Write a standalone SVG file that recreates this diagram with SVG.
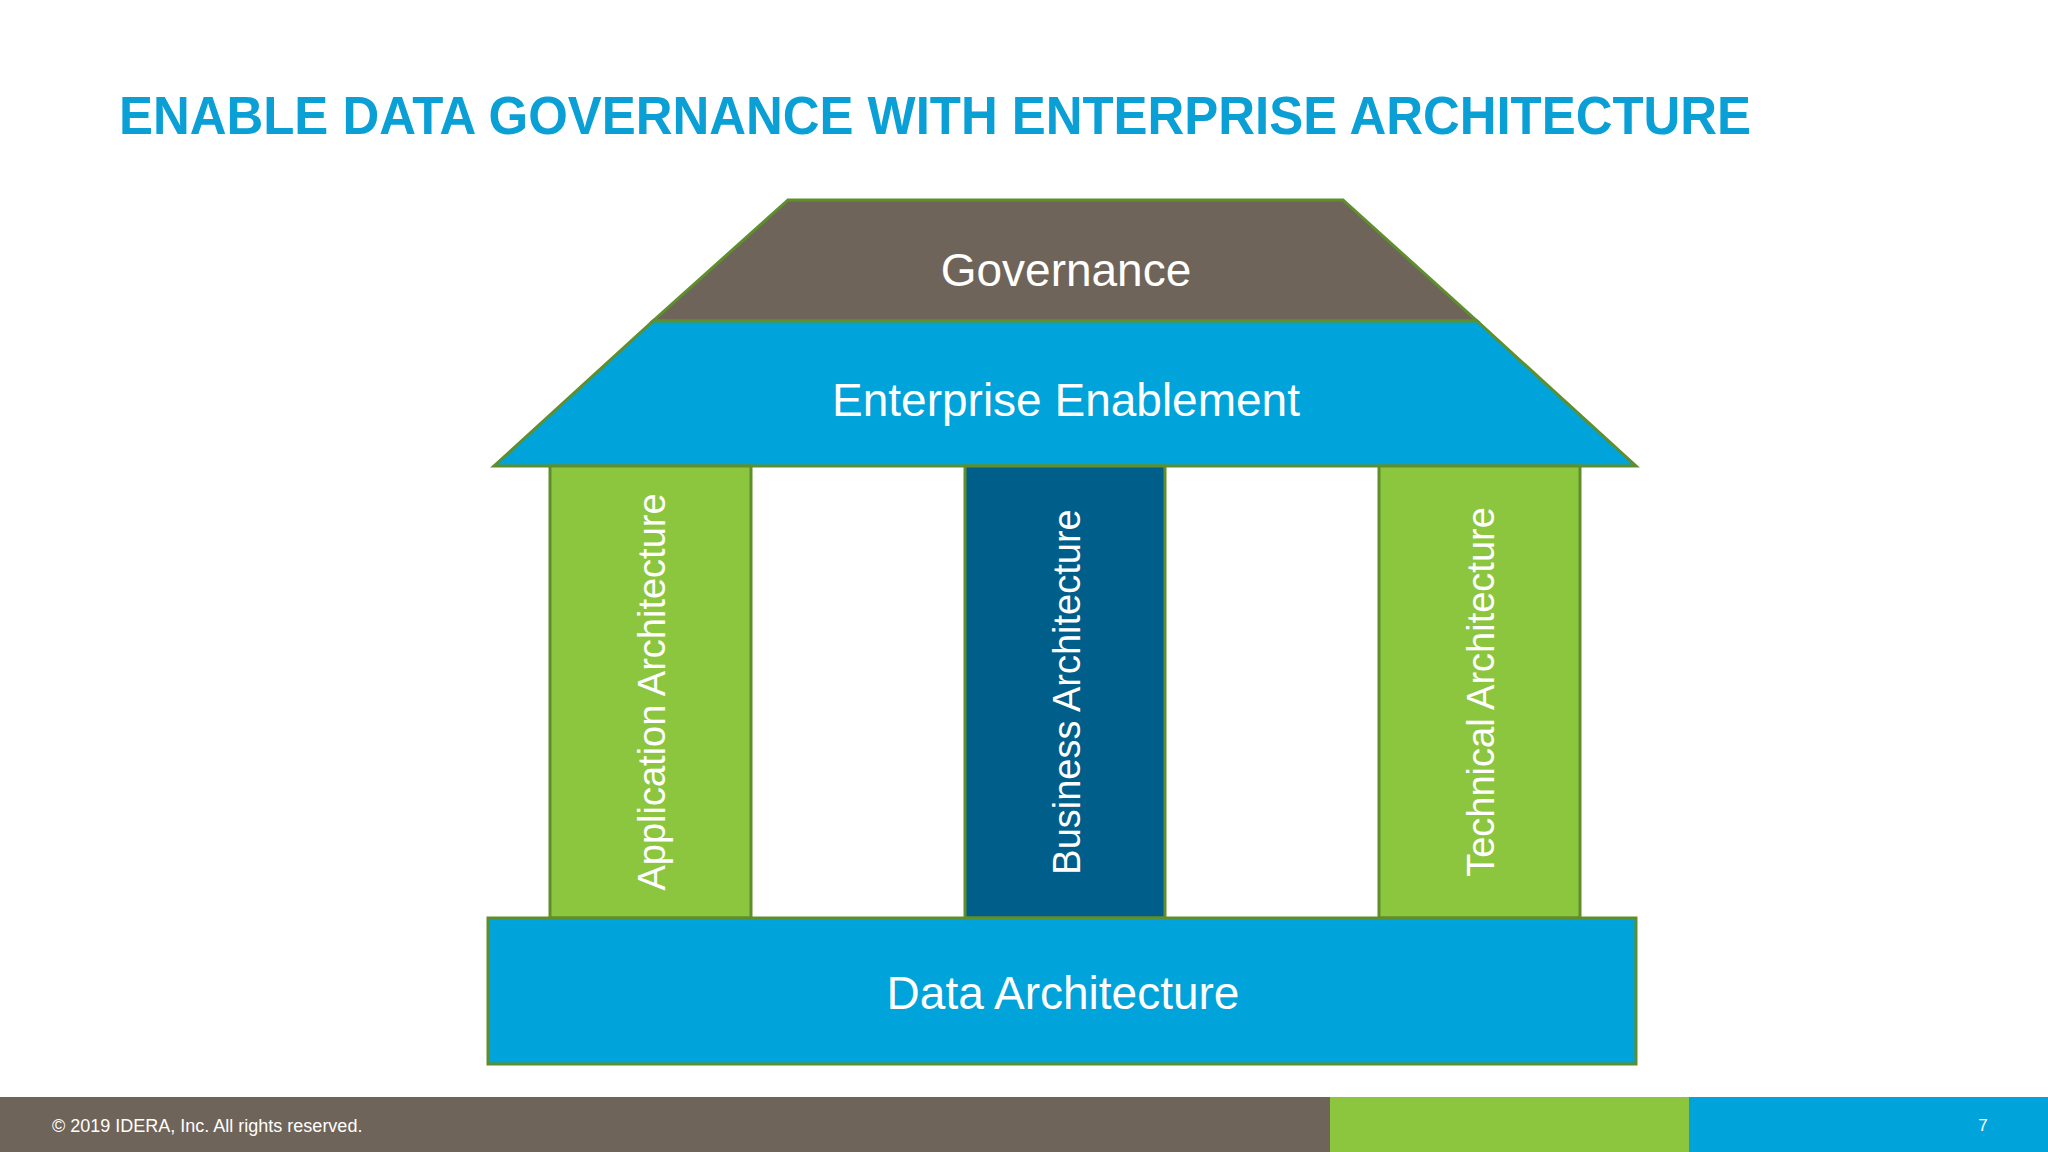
<svg xmlns="http://www.w3.org/2000/svg" width="2048" height="1152" viewBox="0 0 2048 1152">
<style>
.s{stroke:#5f8f2d;stroke-width:3}
.t{font-family:"Liberation Sans",Arial,sans-serif;fill:#fff;text-anchor:middle}
.big{font-size:46px}
.col{font-size:38px}
</style>
<rect width="2048" height="1152" fill="#fff"/>
<text x="119" y="134" font-family="Liberation Sans,Arial,sans-serif" font-size="53" font-weight="bold" fill="#0aa0d6" textLength="1632" lengthAdjust="spacingAndGlyphs">ENABLE DATA GOVERNANCE WITH ENTERPRISE ARCHITECTURE</text>
<g id="governance"><polygon class="s" points="788,200 1343,200 1477,321 653,321" fill="#6f6459"/><text class="t big" x="1066" y="286">Governance</text></g>
<g id="enablement"><polygon class="s" points="653,321 1477,321 1636,466 494,466" fill="#00a3da"/><text class="t big" x="1066" y="416">Enterprise Enablement</text></g>
<g id="app"><rect class="s" x="550" y="466" width="201" height="452" fill="#8cc63f"/><text class="t col" transform="translate(665,692) rotate(-90)">Application Architecture</text></g>
<g id="business"><rect class="s" x="965" y="466" width="200" height="452" fill="#005e8a"/><text class="t col" transform="translate(1080,692) rotate(-90)">Business Architecture</text></g>
<g id="technical"><rect class="s" x="1379" y="466" width="201" height="452" fill="#8cc63f"/><text class="t col" transform="translate(1494,692) rotate(-90)">Technical Architecture</text></g>
<g id="data"><rect class="s" x="488" y="918" width="1148" height="146" fill="#00a3da"/><text class="t big" x="1063" y="1009">Data Architecture</text></g>
<g id="connectors"/>
<rect x="0" y="1097" width="1330" height="55" fill="#6f6459"/>
<rect x="1330" y="1097" width="359" height="55" fill="#8cc63f"/>
<rect x="1689" y="1097" width="359" height="55" fill="#00a3da"/>
<text x="52" y="1132" font-family="Liberation Sans,Arial,sans-serif" font-size="18" fill="#fff">© 2019 IDERA, Inc. All rights reserved.</text>
<text x="1983" y="1131" font-family="Liberation Sans,Arial,sans-serif" font-size="17" fill="#fff" text-anchor="middle">7</text>
</svg>
